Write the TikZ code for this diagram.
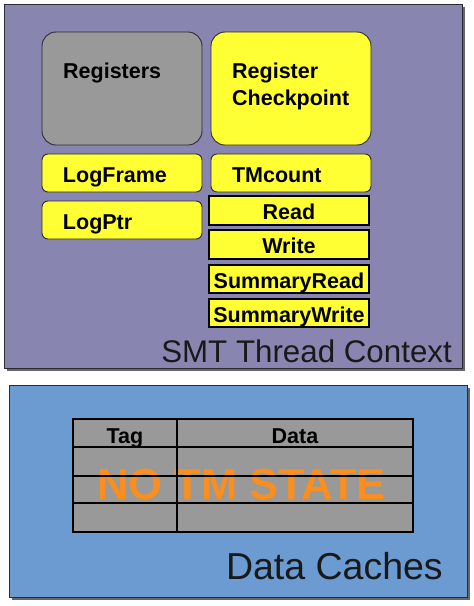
\documentclass[tikz,border=0pt]{standalone}
\usepackage{fontspec}
\setmainfont{Liberation Sans}
\usepackage{tikz}
\usetikzlibrary{shadows,positioning}
\usepackage{xcolor}
\definecolor{CtxPurple}{HTML}{8886B0}
\definecolor{CacheBlue}{HTML}{6C9BD2}
\definecolor{RegGray}{HTML}{999999}
\definecolor{TMYellow}{HTML}{FFFF33}
\definecolor{StateOrange}{HTML}{FA8E1E}
\definecolor{EdgeDark}{HTML}{2A2A33}

\begin{document}
\begin{tikzpicture}[
  x=1pt,y=-1pt,
  region/.style={draw=EdgeDark,line width=0.9pt,inner sep=0pt,
    drop shadow={shadow xshift=3pt,shadow yshift=-3pt,fill=black!60,opacity=1}},
  bigbox/.style={draw=EdgeDark,line width=0.9pt,rounded corners=14pt,
    minimum width=160pt,minimum height=113pt,inner sep=0pt},
  flagbox/.style={draw=EdgeDark,fill=TMYellow,line width=0.9pt,rounded corners=6pt,
    text width=118pt,inner xsep=21pt,inner ysep=0pt,minimum height=38pt,
    text height=18pt,text depth=0pt,align=left,font=\lblfont},
  setbox/.style={draw=black,fill=TMYellow,line width=1.3pt,
    minimum width=160pt,inner sep=0pt,text height=18pt,text depth=0pt,
    align=center,font=\lblfont},
  lbl/.style={inner sep=0pt,font=\lblfont},
  grid/.style={draw=black,line width=1.3pt},
  caption/.style={inner sep=0pt,text=black!90}
]

\newcommand{\lblfont}{\bfseries\fontsize{21.5}{27}\selectfont}

\useasboundingbox (0,0) rectangle (474,606);

% thread context
\node[region,fill=CtxPurple,minimum width=458pt,minimum height=364pt] (context) at (233,186) {};

\node[bigbox,fill=RegGray] (registers) at (122,88.5) {};
\node[bigbox,fill=TMYellow] (checkpoint) at (291,88.5) {};
\node[lbl,anchor=base west] (registerslbl) at (63,78) {Registers};
\node[lbl,anchor=north west,align=left] (checkpointlbl) at (232,63) {Register\\Checkpoint};

\node[flagbox] (logframe) at (122,173) {LogFrame};
\node[flagbox] (tmcount) at (291,173) {TMcount};
\node[flagbox] (logptr) at (122,220) {LogPtr};

\node[setbox,minimum height=29pt] (readset) at (289,210.5) {Read};
\node[setbox,minimum height=29pt] (writeset) at (289,244.5) {Write};
\node[setbox,minimum height=28pt] (sumread) at (289,279) {SummaryRead};
\node[setbox,minimum height=28pt] (sumwrite) at (289,313) {SummaryWrite};

\node[caption,anchor=base east,font=\fontsize{31.3}{31}\selectfont] (ctxlbl) at (452,362) {SMT Thread Context};

% data caches
\node[region,fill=CacheBlue,minimum width=458pt,minimum height=212pt] (caches) at (238,491) {};

\node[grid,fill=RegGray,minimum width=340pt,minimum height=113pt,inner sep=0pt] (cachetable) at (243,475.5) {};
\node[inner sep=0pt,anchor=base,text=StateOrange,font=\bfseries\fontsize{43.5}{44}\selectfont] (nostate) at (241.5,499) {NO TM STATE};

% table lines over the text
\draw[grid] (177,419) -- (177,532);
\foreach \y in {447,476,503}
  \draw[grid] (73,\y) -- (413,\y);

\node[lbl,anchor=base] (taglbl) at (125,443) {Tag};
\node[lbl,anchor=base] (datalbl) at (295,443) {Data};

\node[caption,anchor=base east,font=\fontsize{37.5}{36}\selectfont] (cachelbl) at (443,579) {Data Caches};

\end{tikzpicture}
\end{document}
